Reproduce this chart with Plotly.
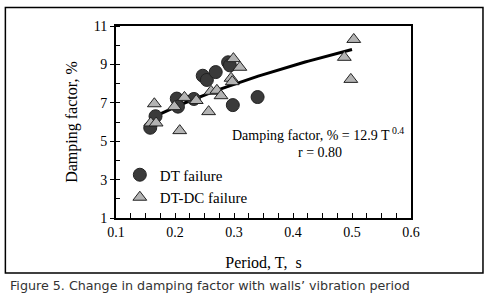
import numpy as np
import plotly.graph_objects as go

# DT failure (circles)
dt_T = [0.158, 0.167, 0.203, 0.205, 0.232, 0.247, 0.254, 0.269, 0.290, 0.293, 0.298, 0.340]
dt_D = [5.70, 6.30, 7.22, 6.80, 7.20, 8.41, 8.19, 8.60, 9.11, 8.95, 6.88, 7.30]

# DT-DC failure (triangles)
dc_T = [0.159, 0.168, 0.165, 0.199, 0.208, 0.216, 0.236, 0.257, 0.261, 0.271,
        0.278, 0.295, 0.297, 0.299, 0.310, 0.487, 0.498, 0.503]
dc_D = [5.95, 5.95, 6.95, 6.80, 5.55, 7.28, 7.12, 6.54, 7.60, 7.65,
        7.37, 8.28, 8.10, 9.30, 8.85, 9.37, 8.22, 10.30]

# Power-law fit: D = a * T^b
fit_a = 12.9
fit_b = 0.4
fit_T = np.linspace(0.165, 0.5, 60)
fit_D = fit_a * fit_T ** fit_b

serif = "Liberation Serif"

fig = go.Figure()
fig.add_trace(go.Scatter(x=fit_T, y=fit_D, mode="lines",
                         line=dict(color="black", width=3), showlegend=False))
fig.add_trace(go.Scatter(x=dt_T, y=dt_D, mode="markers", name="DT failure",
                         marker=dict(symbol="circle", size=13, color="#3a3a3a",
                                     line=dict(color="#222222", width=1))))
fig.add_trace(go.Scatter(x=dc_T, y=dc_D, mode="markers", name="DT-DC failure",
                         marker=dict(symbol="triangle-up", size=12, color="#b3b3b3",
                                     line=dict(color="#222222", width=1))))

fig.update_layout(
    width=493, height=304,
    margin=dict(l=116, r=82, t=26, b=86),
    paper_bgcolor="white", plot_bgcolor="white",
    font=dict(family=serif, size=14, color="black"),
    legend=dict(x=0.013, y=0.31, xanchor="left", yanchor="top",
                bgcolor="rgba(0,0,0,0)", font=dict(family=serif, size=15),
                itemwidth=30, tracegroupgap=0),
    shapes=[dict(type="rect", xref="paper", yref="paper",
                 x0=-0.375, x1=1.244, y0=-0.286, y1=1.097,
                 line=dict(color="black", width=1.5))],
    annotations=[
        dict(text="Damping factor, % = 12.9 T<sup> 0.4</sup>", x=0.388, y=0.44,
             xref="paper", yref="paper", xanchor="left", yanchor="middle",
             showarrow=False, font=dict(family=serif, size=14)),
        dict(text="r = 0.80", x=0.69, y=0.34, xref="paper", yref="paper",
             xanchor="center", yanchor="middle", showarrow=False,
             font=dict(family=serif, size=14)),
        dict(text="Figure 5. Change in damping factor with walls\u2019 vibration period",
             x=-0.366, y=-0.354, xref="paper", yref="paper", xanchor="left",
             yanchor="middle", showarrow=False,
             font=dict(family="DejaVu Sans", size=12.7, color="#333333")),
    ],
)
fig.update_xaxes(range=[0.1, 0.6], dtick=0.1, tick0=0.1, tickformat=".1f",
                 showline=True, linewidth=2, linecolor="black", mirror=True,
                 ticks="inside", ticklen=5, tickwidth=1, tickcolor="black",
                 minor=dict(dtick=0.025, ticks="inside", ticklen=5, tickcolor="black"),
                 showgrid=False, zeroline=False,
                 title=dict(text="Period, T,  s", font=dict(family=serif, size=16), standoff=18),
                 tickfont=dict(family=serif, size=14))
fig.update_yaxes(range=[1, 11], dtick=2, tick0=1,
                 showline=True, linewidth=2, linecolor="black", mirror=True,
                 ticks="outside", ticklen=4, tickwidth=1, tickcolor="black",
                 minor=dict(dtick=1, ticks="inside", ticklen=4, tickcolor="black"),
                 showgrid=False, zeroline=False,
                 title=dict(text="Damping factor, %", font=dict(family=serif, size=16), standoff=12),
                 tickfont=dict(family=serif, size=14))

fig.write_html("out.html", config={"displayModeBar": False},
               post_script="document.body.style.margin='0px';")
